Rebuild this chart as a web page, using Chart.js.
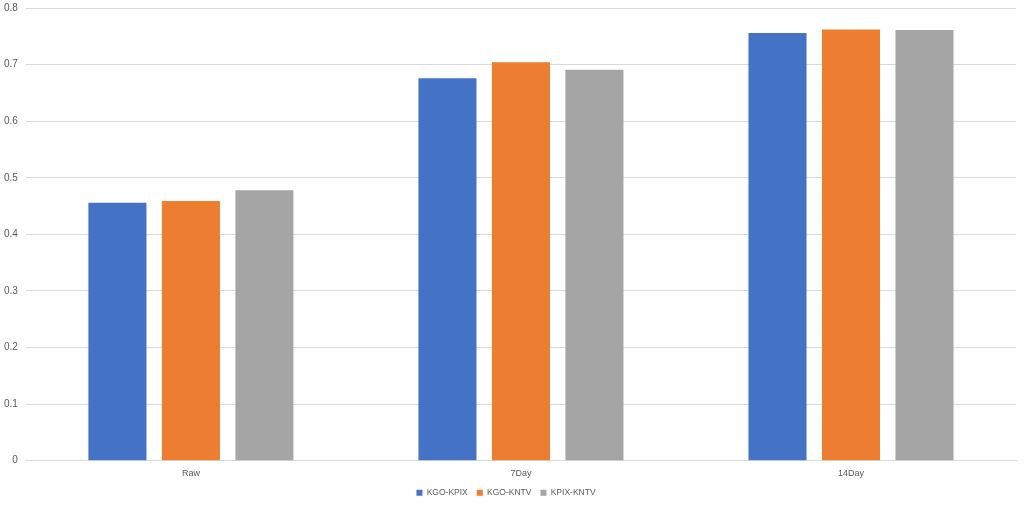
<!DOCTYPE html>
<html>
<head>
<meta charset="utf-8">
<script src="https://cdn.jsdelivr.net/npm/chart.js@4"></script>
<style>
  html, body { margin: 0; padding: 0; background: #fff; overflow: hidden; }
  #outer { width: 1024px; height: 507px; position: relative; overflow: hidden; }
  #wrap { width: 1024px; height: 513px; position: absolute; left: 0; top: -6px; }
</style>
</head>
<body>
<div id="outer"><div id="wrap"><canvas id="chart"></canvas></div></div>
<script>
// 類別與數據
const categories = ['Raw', '7Day', '14Day'];
const seriesNames = ['KGO-KPIX', 'KGO-KNTV', 'KPIX-KNTV'];
const kgoKpix = [0.456, 0.676, 0.756];
const kgoKntv = [0.459, 0.704, 0.762];
const kpixKntv = [0.478, 0.691, 0.761];
const yTicks = [0, 0.1, 0.2, 0.3, 0.4, 0.5, 0.6, 0.7, 0.8];

const colors = ['#4472c4', '#ed7d31', '#a5a5a5'];
const values = [kgoKpix, kgoKntv, kpixKntv];

const ctx = document.getElementById('chart').getContext('2d');
new Chart(ctx, {
  type: 'bar',
  data: {
    labels: categories,
    datasets: seriesNames.map((name, i) => ({
      label: name,
      data: values[i],
      backgroundColor: colors[i],
      borderWidth: 0,
      categoryPercentage: 0.668,
      barPercentage: 0.79
    }))
  },
  options: {
    responsive: true,
    maintainAspectRatio: false,
    animation: false,
    layout: { padding: { left: -4, right: 8, top: 0, bottom: 0 } },
    plugins: {
      legend: {
        position: 'bottom',
        labels: {
          boxWidth: 6,
          boxHeight: 6,
          padding: 9,
          color: '#595959',
          font: { family: 'Liberation Sans', size: 8.5 }
        }
      },
      tooltip: { enabled: false }
    },
    scales: {
      x: {
        grid: { display: false, drawTicks: false },
        border: { color: '#d9d9d9' },
        ticks: { color: '#595959', font: { family: 'Liberation Sans', size: 9 }, padding: 7 },
        afterFit: (axis) => { axis.height -= 6; }
      },
      y: {
        min: 0,
        max: 0.8,
        afterBuildTicks: (axis) => { axis.ticks = yTicks.map(v => ({ value: v })); },
        grid: { color: '#d9d9d9', drawTicks: false },
        border: { display: false },
        ticks: {
          color: '#595959',
          font: { family: 'Liberation Sans', size: 10 },
          padding: 8,
          callback: (v) => String(Math.round(v * 10) / 10)
        }
      }
    }
  }
});
</script>
</body>
</html>
